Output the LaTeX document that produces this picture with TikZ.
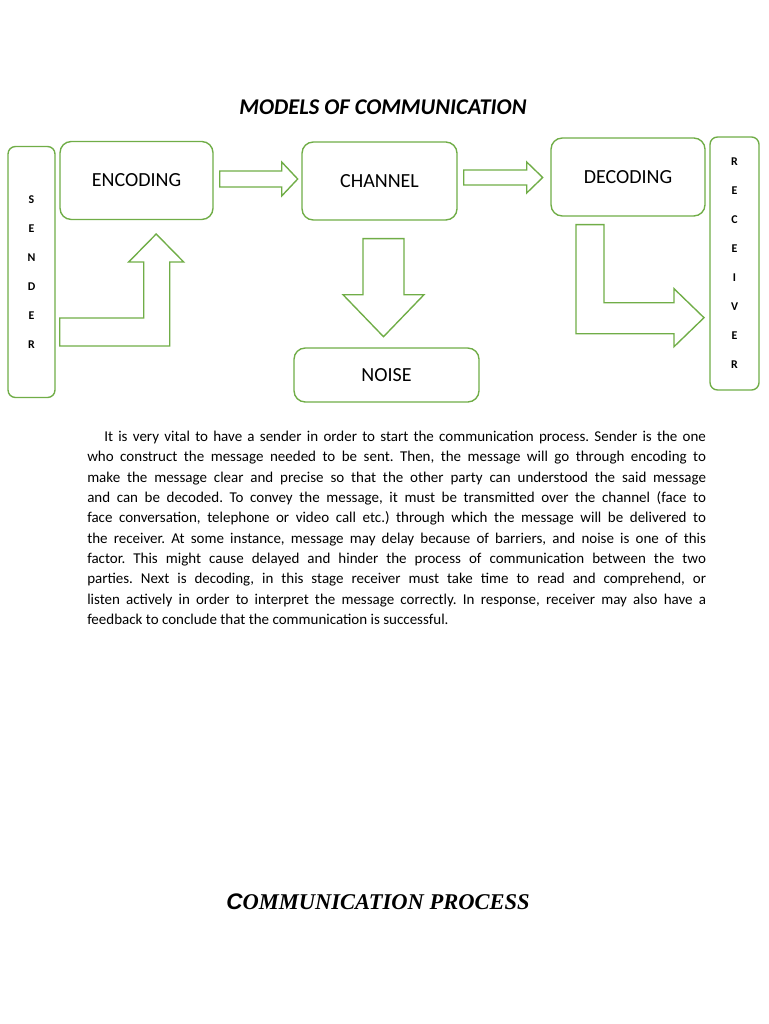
\documentclass[tikz,border=0pt]{standalone}
\usepackage{fontspec}
\setmainfont{Carlito}
\newfontfamily\timesfont{Liberation Serif}
\newfontfamily\arialfont{Liberation Sans}
\usepackage{tikz}
\definecolor{officegreen}{RGB}{112,173,71}
\tikzset{
	box/.style={draw=officegreen, line width=1.1pt, rounded corners=9pt, fill=white, inner sep=0pt, font=\fontsize{16}{19}\selectfont},
	tallbox/.style={box, rounded corners=6pt, align=center, font=\fontsize{9.5}{23.2}\selectfont\bfseries},
	blockarrow/.style={draw=officegreen, line width=1.1pt, line join=miter}
}

\begin{document}
\begin{tikzpicture}[x=0.8pt, y=-0.8pt]
				\useasboundingbox (0,0) rectangle (768,1024);
				\node[font=\fontsize{18}{22}\selectfont\bfseries\itshape] (title) at (383,107) {MODELS OF COMMUNICATION};
				% boxes
				\node[tallbox, minimum width=37.6pt, minimum height=200.8pt] (sender) at (31.5,272) {S\\E\\N\\D\\E\\R};
				\node[box, minimum width=122.4pt, minimum height=62.4pt] (encoding) at (136.5,180.5) {ENCODING};
				\node[box, minimum width=124pt, minimum height=62.4pt] (channel) at (379.5,181) {CHANNEL};
				\node[box, minimum width=123.2pt, minimum height=62.4pt] (decoding) at (628,177) {DECODING};
				\node[tallbox, minimum width=39.2pt, minimum height=202.4pt] (receiver) at (734.5,263.5) {R\\E\\C\\E\\I\\V\\E\\R};
				\node[box, minimum width=148pt, minimum height=43.2pt] (noise) at (386.5,375) {NOISE};
				% block arrows
				\draw[blockarrow] (encoding.east) ++(6,-9.5) -- ++(62,0) -- ++(0,-9) -- ++(16,17) -- ++(-16,17) -- ++(0,-9) -- ++(-62,0) -- cycle;
				\draw[blockarrow] (channel.east) ++(6,-11) -- ++(63,0) -- ++(0,-8) -- ++(16,15.5) -- ++(-16,15.5) -- ++(0,-8) -- ++(-63,0) -- cycle;
				\draw[blockarrow] (channel.south) ++(-16.5,18) -- ++(41,0) -- ++(0,56) -- ++(20,0) -- ++(-40.5,42) -- ++(-40.5,-42) -- ++(20,0) -- cycle;
				\draw[blockarrow] (sender.east) ++(4,46) -- ++(84,0) -- ++(0,-56) -- ++(-15,0) -- ++(27.5,-28) -- ++(27.5,28) -- ++(-14,0) -- ++(0,84) -- ++(-110,0) -- cycle;
				\draw[blockarrow] (decoding.south) ++(-52,8) -- ++(28,0) -- ++(0,78) -- ++(70,0) -- ++(0,-14) -- ++(30,29) -- ++(-30,29) -- ++(0,-13) -- ++(-98,0) -- cycle;
				% text
				\node[anchor=north west, inner sep=0pt, text width=495pt, align=justify, font=\fontsize{12}{16.24}\selectfont] (para) at (87,431) {\frenchspacing\hyphenpenalty=10000\tolerance=10000\hspace*{13.6pt}It is very vital to have a sender in order to start the communication process. Sender is the one\linebreak
				who construct the message needed to be sent. Then, the message will go through encoding to\linebreak
				make the message clear and precise so that the other party can understood the said message\linebreak
				and can be decoded. To convey the message, it must be transmitted over the channel (face to\linebreak
				face conversation, telephone or video call etc.) through which the message will be delivered to\linebreak
				the receiver. At some instance, message may delay because of barriers, and noise is one of this\linebreak
				factor. This might cause delayed and hinder the process of communication between the two\linebreak
				parties. Next is decoding, in this stage receiver must take time to read and comprehend, or\linebreak
				listen actively in order to interpret the message correctly. In response, receiver may also have a\linebreak
				feedback to conclude that the communication is successful.};
				\node[font=\fontsize{18}{21}\selectfont\bfseries\itshape] (process) at (378,902) {{\arialfont C}{\timesfont OMMUNICATION PROCESS}};
\end{tikzpicture}
\end{document}
